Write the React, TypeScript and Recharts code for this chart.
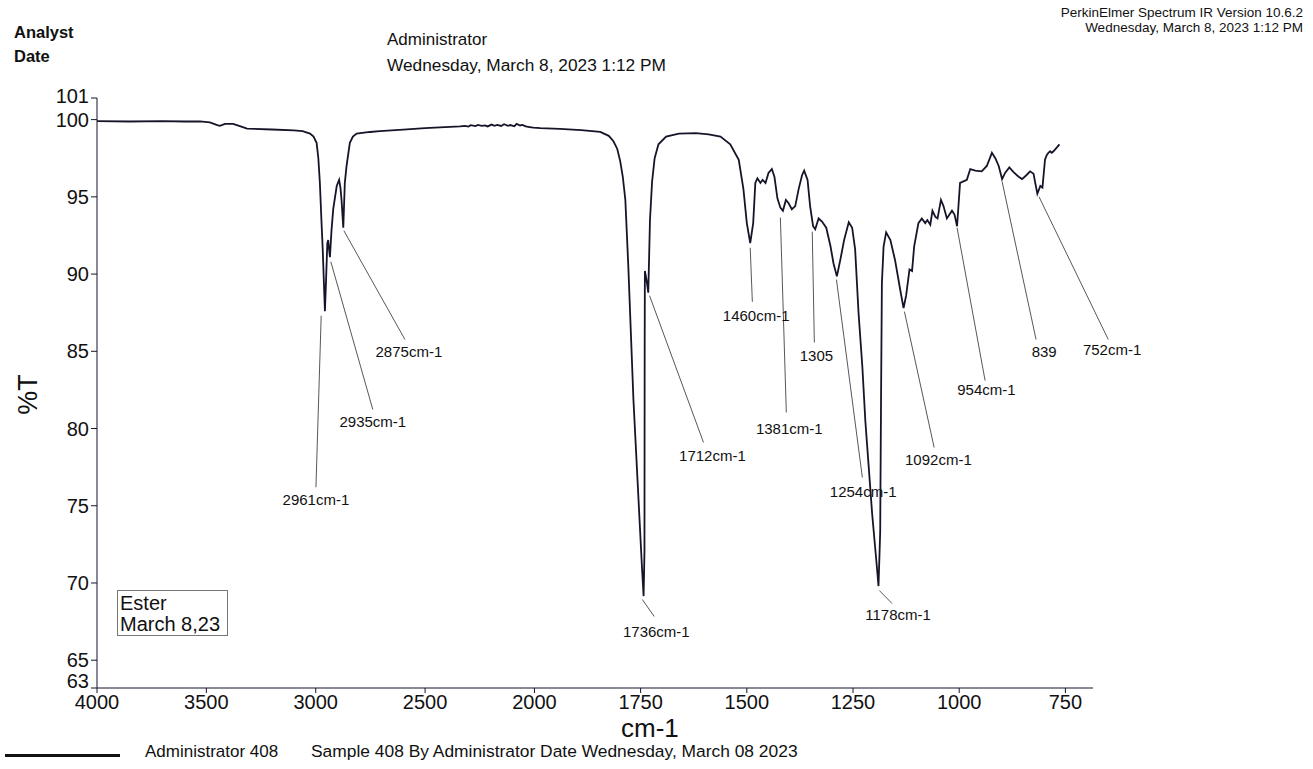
import React from 'react'
import { LineChart, Line, XAxis, YAxis, ReferenceLine, ReferenceDot } from 'recharts'

// spectrum, wavenumber (cm-1) and %T
const SPEC_WN = [
  4000, 3850, 3700, 3600, 3529, 3484, 3450, 3438, 3415, 3378, 3340, 3314, 3200, 3100, 3060,
  3026, 3010, 2996, 2988, 2981, 2974, 2968, 2962, 2958, 2953, 2947, 2943, 2939, 2935, 2928,
  2920, 2904, 2893, 2887, 2882, 2874, 2867, 2859, 2844, 2830, 2813, 2752, 2707, 2600, 2500,
  2432, 2340, 2318, 2302, 2291, 2270, 2258, 2241, 2226, 2214, 2196, 2183, 2170, 2152, 2139,
  2121, 2110, 2092, 2081, 2066, 2055, 2040, 2022, 2005, 1986, 1940, 1890, 1845, 1825, 1814,
  1805, 1798, 1792, 1786, 1779, 1767, 1755, 1747, 1743, 1741, 1740.5, 1740, 1736, 1732, 1728,
  1723, 1717, 1708, 1690, 1660, 1620, 1590, 1562, 1539, 1519, 1508, 1500, 1492, 1485, 1480,
  1475, 1468, 1463, 1456, 1449, 1441, 1435, 1428, 1421, 1415, 1408, 1402, 1394, 1386, 1378,
  1370, 1365, 1357, 1351, 1344, 1339, 1331, 1323, 1313, 1303, 1296, 1288, 1280, 1271, 1260,
  1252, 1245, 1237, 1228, 1221, 1213, 1205, 1194, 1190, 1186, 1184, 1182, 1178, 1172, 1162,
  1151, 1139, 1131, 1125, 1117, 1111, 1106, 1100, 1096, 1088, 1080, 1075, 1068, 1063, 1056,
  1051, 1043, 1037, 1029, 1017, 1011, 1005, 998, 990, 982, 974, 962, 947, 935, 923,
  915, 907, 899, 892, 882, 872, 860, 852, 842, 833, 825, 821, 816, 809, 804,
  798, 794, 790, 786, 782, 778, 770, 764,
]
const SPEC_T = [
  99.9, 99.88, 99.9, 99.88, 99.88, 99.82, 99.65, 99.6, 99.72, 99.72, 99.55, 99.42, 99.36, 99.3, 99.25,
  99.1, 98.9, 98.5, 97.5, 95.9, 93.5, 91.6, 89.2, 87.6, 89.5, 92.0, 92.2, 91.6, 91.1, 92.8,
  94.2, 95.7, 96.1, 95.6, 94.8, 93.0, 95.9, 97.0, 98.5, 98.9, 99.1, 99.2, 99.25, 99.35, 99.45,
  99.5, 99.56, 99.6, 99.55, 99.64, 99.58, 99.66, 99.6, 99.63, 99.56, 99.68, 99.6, 99.66, 99.59, 99.7,
  99.6, 99.65, 99.57, 99.72, 99.62, 99.66, 99.56, 99.52, 99.48, 99.45, 99.4, 99.32, 99.2, 98.95, 98.6,
  98.1, 97.3, 96.3, 94.8, 90.5, 81.9, 75.4, 71.1, 69.15, 72, 85, 90.2, 89.6, 88.8, 93.5,
  96.0, 97.5, 98.4, 98.9, 99.1, 99.12, 99.05, 98.9, 98.4, 97.4, 95.5, 93.3, 92.0, 93.3, 95.9,
  96.2, 95.9, 96.1, 95.9, 96.55, 96.8, 96.3, 94.9, 94.3, 94.1, 94.8, 94.6, 94.2, 94.4, 95.5,
  96.4, 96.7, 96.1, 94.4, 93.1, 92.9, 93.6, 93.4, 93.0, 91.8, 90.7, 89.85, 90.9, 92.2, 93.35,
  93.0, 91.6, 87.5, 84.0, 80.5, 77.5, 74.5, 71.1, 69.8, 73.3, 81.9, 89.4, 91.8, 92.7, 92.2,
  90.9, 89.0, 87.8, 88.6, 90.3, 90.2, 91.8, 92.7, 93.3, 93.6, 93.3, 93.5, 93.2, 94.1, 93.7,
  93.6, 94.8, 94.4, 93.6, 94.1, 93.85, 93.1, 95.9, 96.0, 96.1, 96.8, 96.7, 96.65, 97.0, 97.85,
  97.5, 97.0, 96.15, 96.55, 96.9, 96.6, 96.3, 96.15, 96.4, 96.65, 96.5, 95.9, 95.2, 95.7, 95.6,
  97.4, 97.7, 97.85, 97.95, 97.85, 97.95, 98.2, 98.4,
]

const X_TICKS = [4000, 3500, 3000, 2500, 2000, 1750, 1500, 1250, 1000, 750]
const X_END = 685
const Y_TICKS = [63.2, 65, 70, 75, 80, 85, 90, 95, 100, 101.4]

// peak annotations: name, leader start, leader end, label centre (wn, %T)
const PEAK_NAMES = [
  '2961cm-1', '2935cm-1', '2875cm-1', '1736cm-1', '1712cm-1', '1460cm-1', '1381cm-1',
  '1305', '1254cm-1', '1178cm-1', '1092cm-1', '954cm-1', '839', '752cm-1',
]
const LEADER_FROM = [
  [2975, 87.3], [2931, 90.8], [2871, 92.8], [1746, 68.93], [1729, 88.6], [1492, 91.7], [1421, 93.66],
  [1346, 92.75], [1289, 89.64], [1188, 69.51], [1129, 87.57], [1005, 93.0], [899, 95.99], [812, 95.0],
]
const LEADER_TO = [
  [2999, 76.2], [2739, 81.23], [2592, 85.76], [1718, 67.83], [1602, 79.1], [1487, 88.2], [1407, 81.04],
  [1341, 85.57], [1228, 76.83], [1158, 68.67], [1059, 78.77], [939, 83.1], [819, 85.76], [649, 85.76],
]
const LABEL_AT = [
  [2999, 75.4], [2739, 80.45], [2574, 84.98], [1713, 66.86], [1581, 78.25], [1478, 87.31], [1400, 80.0],
  [1336, 84.72], [1226, 75.92], [1144, 67.96], [1049, 78.0], [936, 82.52], [800, 84.98], [640, 85.11],
]

// the x axis is compressed above 2000 cm-1, like the instrument print
const K = 0.971
const toPos = (wn: number) => (wn >= 2000 ? (4000 - wn) / 2 : 1000 + (2000 - wn) * K)
const fromPos = (p: number) => (p <= 1000 ? 4000 - 2 * p : 2000 - (p - 1000) / K)

const data = SPEC_WN.map((wn, i) => ({ pos: toPos(wn), t: SPEC_T[i] }))

const FONT = '"Liberation Sans", Arial, sans-serif'
const INK = '#15152a'

const txt = (left: number, top: number, size: number, extra: React.CSSProperties = {}) => ({
  position: 'absolute' as const,
  left,
  top,
  fontSize: size,
  fontFamily: FONT,
  color: '#111',
  lineHeight: 1,
  whiteSpace: 'nowrap' as const,
  ...extra,
})

// y tick: end values are nudged apart from their neighbours, as on the print
const YTick = (props: any) => {
  const { x, y, payload } = props
  const v = payload.value
  const dy = v < 64 ? -7 : v > 101 ? -2 : 0
  return (
    <text x={x} y={y + dy} textAnchor="end" dominantBaseline="central" fontSize={20} fontFamily={FONT} fill="#111">
      {Math.round(v)}
    </text>
  )
}

export default function App() {
  return (
    <div style={{ position: 'absolute', left: 0, top: 0, width: 1313, height: 769, background: '#fff' }}>
      <div style={txt(14, 24, 16.5, { fontWeight: 'bold' })}>Analyst</div>
      <div style={txt(14, 48, 16.5, { fontWeight: 'bold' })}>Date</div>
      <div style={txt(387, 31, 17)}>Administrator</div>
      <div style={txt(387, 57, 17.3)}>Wednesday, March 8, 2023 1:12 PM</div>
      <div style={txt(0, 6, 13.5, { width: 1303, textAlign: 'right' })}>
        PerkinElmer Spectrum IR Version 10.6.2
      </div>
      <div style={txt(0, 21, 13.5, { width: 1303, textAlign: 'right' })}>
        Wednesday, March 8, 2023 1:12 PM
      </div>

      <LineChart width={1313} height={769} data={data} margin={{ top: 98, right: 220, left: 0, bottom: 0 }}>
        <XAxis
          dataKey="pos"
          type="number"
          domain={[0, toPos(X_END)]}
          ticks={X_TICKS.map(toPos)}
          tickFormatter={(v: number) => String(Math.round(fromPos(v)))}
          height={81}
          stroke={INK}
          tickSize={5}
          tickMargin={2}
          tick={{ fontSize: 20, fill: '#111', fontFamily: FONT }}
          interval={0}
        />
        <YAxis
          type="number"
          domain={[63.2, 101.4]}
          ticks={Y_TICKS}
          width={97}
          stroke={INK}
          tickSize={6}
          tickMargin={2}
          tick={<YTick />}
          interval={0}
        />
        {PEAK_NAMES.map((name, i) => (
          <ReferenceLine
            key={'l' + name}
            segment={[
              { x: toPos(LEADER_FROM[i][0]), y: LEADER_FROM[i][1] },
              { x: toPos(LEADER_TO[i][0]), y: LEADER_TO[i][1] },
            ]}
            stroke="#444"
            strokeWidth={0.9}
            ifOverflow="visible"
          />
        ))}
        {PEAK_NAMES.map((name, i) => (
          <ReferenceDot
            key={'t' + name}
            x={toPos(LABEL_AT[i][0])}
            y={LABEL_AT[i][1]}
            r={0}
            ifOverflow="visible"
            shape={(p: any) => (
              <text
                x={p.cx}
                y={p.cy}
                textAnchor="middle"
                dominantBaseline="central"
                fontSize={15}
                fontFamily={FONT}
                fill="#111"
              >
                {name}
              </text>
            )}
          />
        ))}
        <Line
          type="linear"
          dataKey="t"
          stroke={INK}
          strokeWidth={1.8}
          dot={false}
          isAnimationActive={false}
        />
      </LineChart>

      <div style={txt(8, 381, 27, { transform: 'rotate(-90deg)', transformOrigin: 'center' })}>%T</div>
      <div style={txt(621, 715, 26)}>cm-1</div>

      <div
        style={{
          position: 'absolute',
          left: 117,
          top: 590,
          width: 111,
          height: 46,
          border: '1px solid #777',
          boxSizing: 'border-box',
        }}
      />
      <div style={txt(120, 593, 20)}>Ester</div>
      <div style={txt(120, 614, 20)}>March 8,23</div>

      <div style={{ position: 'absolute', left: 5, top: 754, width: 115, height: 3, background: '#111' }} />
      <div style={txt(145, 743, 17)}>Administrator 408</div>
      <div style={txt(311, 743, 17.4)}>Sample 408 By Administrator Date Wednesday, March 08 2023</div>
    </div>
  )
}
